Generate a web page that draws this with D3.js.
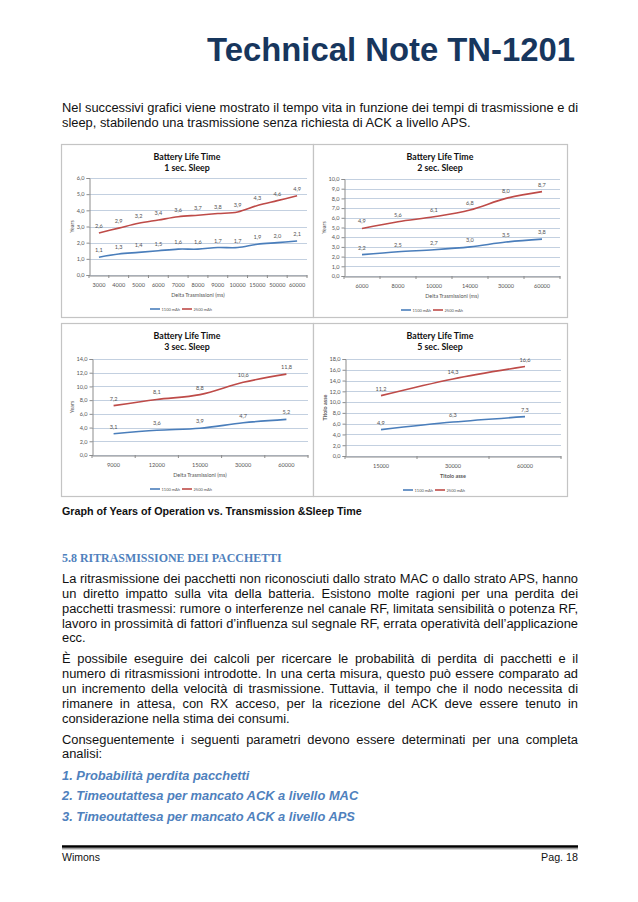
<!DOCTYPE html>
<html><head><meta charset="utf-8">
<script src="https://cdn.jsdelivr.net/npm/d3@7"></script>
<style>html,body{margin:0;padding:0;background:#fff;} svg{display:block;}</style>
</head><body>
<svg id="page" width="638" height="902"></svg>
<script>
// ---------- DATA ----------
const seriesNames = ["1100 mAh", "2500 mAh"];

const sleep1Categories = ["3000","4000","5000","6000","7000","8000","9000","10000","15000","50000","60000"];
const sleep1Mah1100 = [1.1,1.3,1.4,1.5,1.6,1.6,1.7,1.7,1.9,2.0,2.1];
const sleep1Mah2500 = [2.6,2.9,3.2,3.4,3.6,3.7,3.8,3.9,4.3,4.6,4.9];
const sleep1YTicks = [0,1,2,3,4,5,6];

const sleep2Categories = ["6000","8000","10000","14000","30000","60000"];
const sleep2Mah1100 = [2.2,2.5,2.7,3.0,3.5,3.8];
const sleep2Mah2500 = [4.9,5.6,6.1,6.8,8.0,8.7];
const sleep2YTicks = [0,1,2,3,4,5,6,7,8,9,10];

const sleep3Categories = ["9000","12000","15000","30000","60000"];
const sleep3Mah1100 = [3.1,3.6,3.9,4.7,5.2];
const sleep3Mah2500 = [7.2,8.1,8.8,10.6,11.8];
const sleep3YTicks = [0,2,4,6,8,10,12,14];

const sleep5Categories = ["15000","30000","60000"];
const sleep5Mah1100 = [4.9,6.3,7.3];
const sleep5Mah2500 = [11.2,14.3,16.6];
const sleep5YTicks = [0,2,4,6,8,10,12,14,16,18];

const chartTitles = ["1 sec. Sleep","2 sec. Sleep","3 sec. Sleep","5 sec. Sleep"];
const xAxisTitles = ["Delta Trasmissioni (ms)","Delta Trasmissioni (ms)","Delta Trasmissioni (ms)","Titolo asse"];
const yAxisTitles = ["Years","Years","Years","Titolo asse"];

// ---------- TEXT ----------
const pageTitle = "Technical Note TN-1201";
const introLines = ["Nel successivi grafici viene mostrato il tempo vita in funzione dei tempi di trasmissione e di",
  "sleep, stabilendo una trasmissione senza richiesta di ACK a livello APS."];
const caption = "Graph of Years of Operation vs. Transmission &Sleep Time";
const heading = "5.8 RITRASMISSIONE DEI PACCHETTI";
const para1 = ["La ritrasmissione dei pacchetti non riconosciuti dallo strato MAC o dallo strato APS, hanno",
  "un diretto impatto sulla vita della batteria. Esistono molte ragioni per una perdita dei",
  "pacchetti trasmessi: rumore o interferenze nel canale RF, limitata sensibilità o potenza RF,",
  "lavoro in prossimità di fattori d’influenza sul segnale RF, errata operatività dell’applicazione",
  "ecc."];
const para2 = ["È possibile eseguire dei calcoli per ricercare le probabilità di perdita di pacchetti e il",
  "numero di ritrasmissioni introdotte. In una certa misura, questo può essere comparato ad",
  "un incremento della velocità di trasmissione. Tuttavia, il tempo che il nodo necessita di",
  "rimanere in attesa, con RX acceso, per la ricezione del ACK deve essere tenuto in",
  "considerazione nella stima dei consumi."];
const para3 = ["Conseguentemente i seguenti parametri devono essere determinati per una completa",
  "analisi:"];
const listItems = ["1. Probabilità perdita pacchetti",
  "2. Timeoutattesa per mancato ACK a livello MAC",
  "3. Timeoutattesa per mancato ACK a livello APS"];
const footerLeft = "Wimons", footerRight = "Pag. 18";

// ---------- DRAW ----------
const svg = d3.select("#page");
const L = 62, R = 578;
const sans = "'Liberation Sans', Arial, sans-serif";
const chartFont = "Lato, 'Open Sans', sans-serif";

function fit(sel, target) {
  const len = sel.node().getComputedTextLength();
  const fs = parseFloat(sel.attr("font-size"));
  const nf = fs * target / len;
  sel.attr("font-size", nf);
  return nf;
}
function justify(sel, target) {
  const len = sel.node().getComputedTextLength();
  const n = (sel.text().match(/ /g) || []).length;
  if (n > 0) sel.style("word-spacing", ((target - len) / n) + "px");
}

// Title
const t = svg.append("text").attr("x", R - 3).attr("y", 61).attr("text-anchor", "end")
  .attr("font-family", sans).attr("font-weight", "bold").attr("font-size", 30)
  .attr("fill", "#17365d").text(pageTitle);
fit(t, 368);

// body font size calibration
const probe = svg.append("text").attr("font-family", sans).attr("font-size", 13).text(introLines[1]);
const bodySize = fit(probe, 409);
probe.remove();

function bodyLine(str, y, just, opts = {}) {
  const s = svg.append("text").attr("x", L).attr("y", y)
    .attr("font-family", sans).attr("font-size", opts.size || bodySize)
    .attr("fill", opts.fill || "#111").text(str);
  if (opts.weight) s.attr("font-weight", opts.weight);
  if (opts.style) s.attr("font-style", opts.style);
  if (just) justify(s, R - L);
  return s;
}
bodyLine(introLines[0], 111.5, true);
bodyLine(introLines[1], 126.5, false);

const cap = svg.append("text").attr("x", L).attr("y", 515).attr("font-family", sans)
  .attr("font-weight", "bold").attr("font-size", 11).attr("fill", "#111").text(caption);
fit(cap, 300);

const hd = svg.append("text").attr("x", L).attr("y", 562).attr("font-family", "'Liberation Serif', 'DejaVu Serif', serif")
  .attr("font-weight", "bold").attr("font-size", 14).attr("fill", "#4f81bd").text(heading);
fit(hd, 220);

[582.5, 597.5, 612.5, 627.5, 642].forEach((y, i) => bodyLine(para1[i], y, i < 4));
[662.5, 677.5, 692.5, 707.5, 722.5].forEach((y, i) => bodyLine(para2[i], y, i < 4));
[743.5, 757.5].forEach((y, i) => bodyLine(para3[i], y, i < 1));
[779.5, 800, 821].forEach((y, i) => bodyLine(listItems[i], y, false,
  {weight: "bold", style: "italic", fill: "#4f81bd"}));

svg.append("line").attr("x1", L).attr("x2", R).attr("y1", 846.5).attr("y2", 846.5)
  .attr("stroke", "#000").attr("stroke-width", 2.5);
svg.append("line").attr("x1", L).attr("x2", R).attr("y1", 848.8).attr("y2", 848.8)
  .attr("stroke", "#555").attr("stroke-width", 0.8);
const fl = svg.append("text").attr("x", L).attr("y", 861).attr("font-family", sans)
  .attr("font-size", 12).attr("fill", "#111").text(footerLeft);
fit(fl, 38);
const fr = svg.append("text").attr("x", R).attr("y", 861).attr("text-anchor", "end").attr("font-family", sans)
  .attr("font-size", 12).attr("fill", "#111").text(footerRight);
fit(fr, 37);

// ---------- CHARTS ----------
const colors = ["#4a7ebb", "#be4b48"];
const fmt = v => v.toFixed(1).replace(".", ",");

const charts = [
  {box:[61,144,313,317], plot:[89,307,178,275], cats:sleep1Categories, series:[sleep1Mah1100, sleep1Mah2500], ticks:sleep1YTicks, yTitleX:72, legendX:150},
  {box:[313,144,567,317], plot:[344,560,179,276], cats:sleep2Categories, series:[sleep2Mah1100, sleep2Mah2500], ticks:sleep2YTicks, yTitleX:324, legendX:401},
  {box:[61,323,313,496], plot:[92,308,359,455], cats:sleep3Categories, series:[sleep3Mah1100, sleep3Mah2500], ticks:sleep3YTicks, yTitleX:72, legendX:150},
  {box:[313,323,567,496], plot:[345,561,359,456], cats:sleep5Categories, series:[sleep5Mah1100, sleep5Mah2500], ticks:sleep5YTicks, yTitleX:325, legendX:403, bold:true}
];

charts.forEach((c, ci) => {
  const g = svg.append("g");
  const [bx0, by0, bx1, by1] = c.box;
  const [px0, px1, py0, py1] = c.plot;
  g.append("rect").attr("x", bx0 + 0.5).attr("y", by0 + 0.5).attr("width", bx1 - bx0).attr("height", by1 - by0)
    .attr("fill", "#fff").attr("stroke", "#c4c4c4").attr("stroke-width", 1.2);

  const x = d3.scaleBand().domain(c.cats).range([px0, px1]);
  const y = d3.scaleLinear().domain([0, d3.max(c.ticks)]).range([py1, py0]);

  // gridlines
  g.append("g").selectAll("line").data(c.ticks).join("line")
    .attr("x1", px0).attr("x2", px1).attr("y1", d => Math.round(y(d)) + 0.5).attr("y2", d => Math.round(y(d)) + 0.5)
    .attr("stroke", "#c3d0e0").attr("stroke-width", 1);

  // y axis
  const yAxis = g.append("g").attr("transform", `translate(${px0 + 0.5},0)`)
    .call(d3.axisLeft(y).tickValues(c.ticks).tickFormat(fmt).tickSize(3).tickPadding(2));
  yAxis.select(".domain").attr("stroke", "#8c8c8c");
  yAxis.selectAll(".tick line").attr("stroke", "#8c8c8c");
  yAxis.selectAll(".tick text").attr("font-family", chartFont).attr("font-size", 5.6).attr("fill", "#555");

  // x axis
  const xAxis = g.append("g").attr("transform", `translate(0,${Math.round(py1) + 0.5})`)
    .call(d3.axisBottom(x).tickSize(0).tickPadding(7.5));
  xAxis.select(".domain").attr("stroke", "#8c8c8c");
  xAxis.selectAll(".tick text").attr("font-family", chartFont).attr("font-size", 5.6).attr("fill", "#555");
  g.append("g").selectAll("line").data(c.cats.concat(["__end"])).join("line")
    .attr("x1", (d, i) => px0 + i * x.step()).attr("x2", (d, i) => px0 + i * x.step())
    .attr("y1", py1).attr("y2", py1 + 3).attr("stroke", "#8c8c8c");

  // lines
  const line = d3.line().x((d, i) => x(c.cats[i]) + x.bandwidth() / 2).y(d => y(d)).curve(d3.curveCatmullRom.alpha(0.5));
  c.series.forEach((s, si) => {
    g.append("path").datum(s).attr("d", line).attr("fill", "none")
      .attr("stroke", colors[si]).attr("stroke-width", 1.6);
    g.append("g").selectAll("text").data(s).join("text")
      .attr("x", (d, i) => x(c.cats[i]) + x.bandwidth() / 2).attr("y", d => y(d) - 5)
      .attr("text-anchor", "middle").attr("font-family", chartFont).attr("font-size", 5.6)
      .attr("fill", "#555").text(fmt);
  });

  // titles
  const cx = (bx0 + bx1) / 2;
  const t1 = g.append("text").attr("x", cx).attr("y", by0 + 15.5).attr("text-anchor", "middle")
    .attr("font-family", chartFont).attr("font-weight", "bold").attr("font-size", 10).attr("fill", "#111")
    .text("Battery Life Time");
  const tfs = fit(t1, 67);
  g.append("text").attr("x", cx).attr("y", by0 + 27).attr("text-anchor", "middle")
    .attr("font-family", chartFont).attr("font-weight", "bold").attr("font-size", tfs).attr("fill", "#111")
    .text(chartTitles[ci]);

  // axis titles
  g.append("text").attr("x", (px0 + px1) / 2).attr("y", py1 + 21.5).attr("text-anchor", "middle")
    .attr("font-family", chartFont).attr("font-size", 5.4).attr("fill", "#555")
    .attr("font-weight", c.bold ? "bold" : "normal").text(xAxisTitles[ci]);
  g.append("text").attr("transform", `translate(${c.yTitleX + 2},${(py0 + py1) / 2}) rotate(-90)`)
    .attr("text-anchor", "middle")
    .attr("font-family", chartFont).attr("font-size", 5.4).attr("fill", "#555")
    .attr("font-weight", c.bold ? "bold" : "normal").text(yAxisTitles[ci]);

  // legend
  const ly = py1 + 34;
  const lg = g.append("g").attr("transform", `translate(${c.legendX},${ly})`);
  seriesNames.forEach((n, i) => {
    const ox = i * 32;
    lg.append("line").attr("x1", ox).attr("x2", ox + 10).attr("y1", 0).attr("y2", 0)
      .attr("stroke", colors[i]).attr("stroke-width", 1.6);
    const lt = lg.append("text").attr("x", ox + 11.5).attr("y", 1.9).attr("font-family", chartFont)
      .attr("font-size", 5.2).attr("fill", "#555").text(n);
    fit(lt, 18.5);
  });
});
</script>
</body></html>
